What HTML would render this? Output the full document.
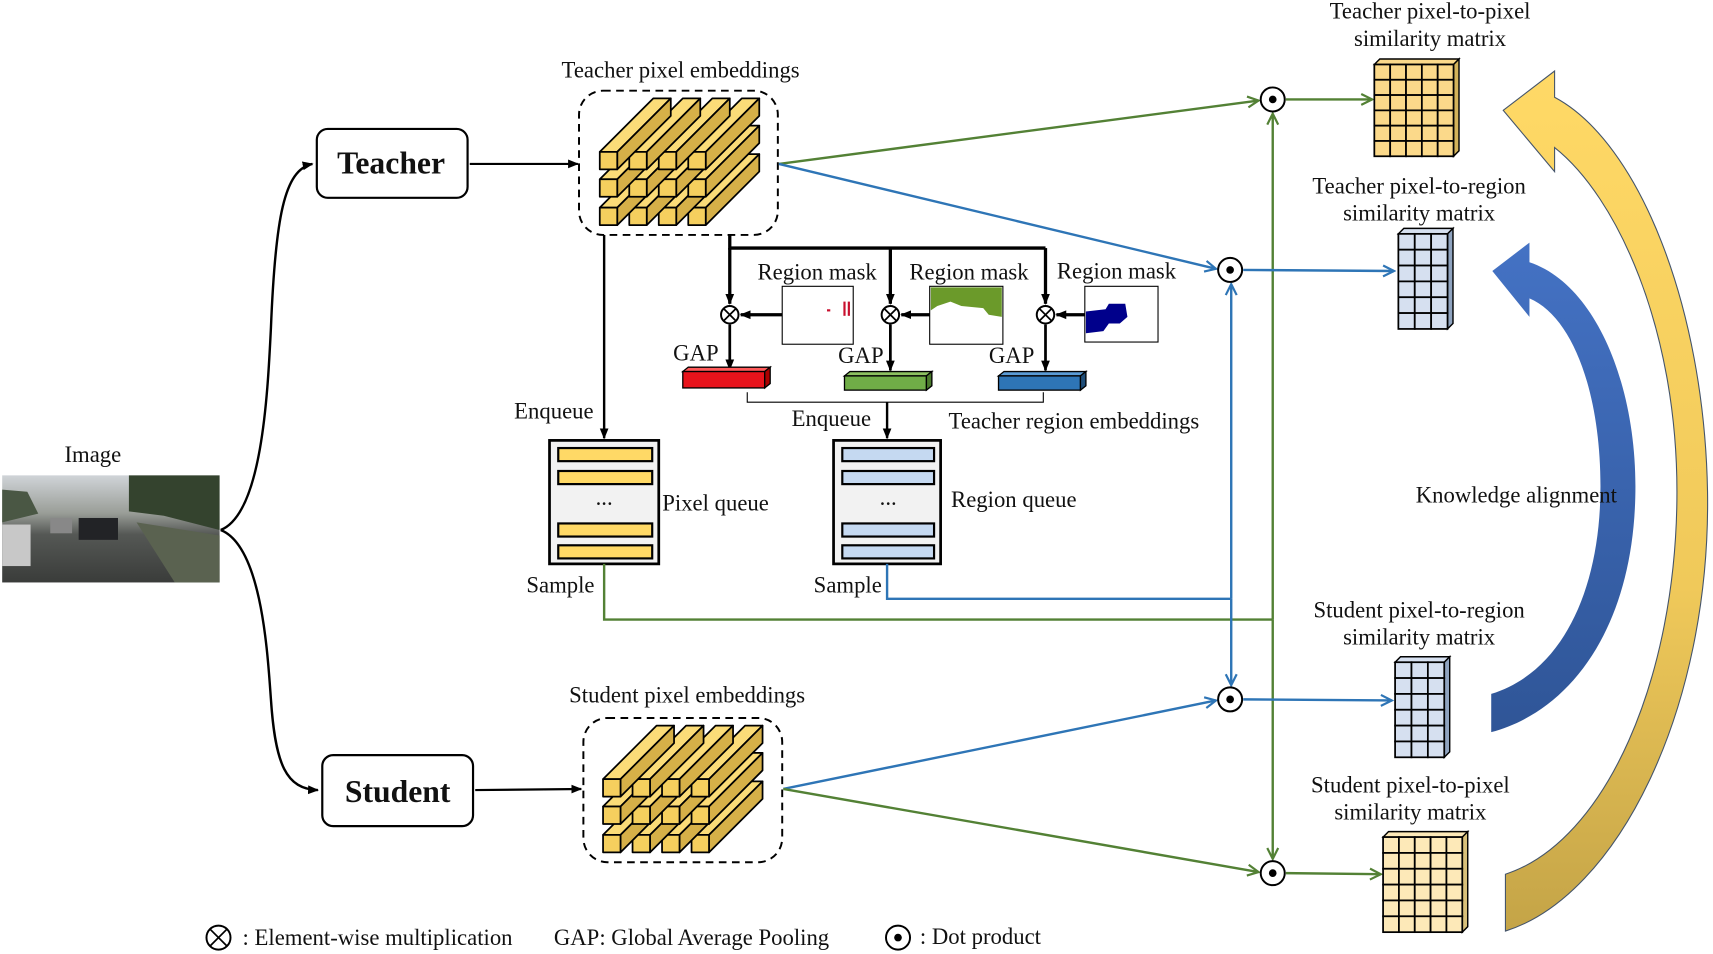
<!DOCTYPE html>
<html><head><meta charset="utf-8"><style>
html,body{margin:0;padding:0;background:#fff;}
svg{display:block;}
text{font-family:"Liberation Serif",serif;font-size:20.8px;fill:#111;}
</style></head><body>
<svg id="s" width="1713" height="954" viewBox="0 0 1568 873" preserveAspectRatio="none" xmlns="http://www.w3.org/2000/svg">
<defs>
<marker id="ak" markerWidth="10" markerHeight="10" refX="9" refY="5" orient="auto" markerUnits="userSpaceOnUse"><path d="M0,1 L10,5 L0,9 Z" fill="#000"/></marker>
<marker id="ag" markerWidth="14" markerHeight="14" refX="12" refY="7" orient="auto" markerUnits="userSpaceOnUse"><path d="M2,2 L12,7 L2,12" fill="none" stroke="#538135" stroke-width="2"/></marker>
<marker id="ab" markerWidth="14" markerHeight="14" refX="12" refY="7" orient="auto" markerUnits="userSpaceOnUse"><path d="M2,2 L12,7 L2,12" fill="none" stroke="#2e75b6" stroke-width="2"/></marker>
<linearGradient id="gy" x1="0" y1="0" x2="0" y2="1"><stop offset="0" stop-color="#ffd966"/><stop offset="0.6" stop-color="#f0c95a"/><stop offset="1" stop-color="#c4a447"/></linearGradient>
<linearGradient id="gb" x1="0" y1="0" x2="0" y2="1"><stop offset="0" stop-color="#4472c4"/><stop offset="1" stop-color="#2f5597"/></linearGradient>
<linearGradient id="sky" x1="0" y1="0" x2="0" y2="1"><stop offset="0" stop-color="#d0d4d8"/><stop offset="0.35" stop-color="#9a9e98"/><stop offset="0.55" stop-color="#555855"/><stop offset="1" stop-color="#3a3c3a"/></linearGradient>
</defs>

<rect x="2" y="435" width="199" height="98" fill="url(#sky)"/>
<path d="M118,435 L201,435 L201,485 L150,472 L118,468 Z" fill="#34432e"/>
<path d="M2,448 L25,450 L35,470 L2,478 Z" fill="#4a5744"/>
<path d="M125,478 L201,490 L201,533 L160,533 Z" fill="#5a6250"/>
<rect x="72" y="474" width="36" height="20" fill="#222326"/>
<rect x="2" y="480" width="26" height="38" fill="#c8c8c8"/>
<rect x="46" y="474" width="20" height="14" fill="#888"/>

<text x="85" y="423" text-anchor="middle">Image</text>

<path d="M202,485 C240,470 245,360 248,300 C252,200 260,155 286,150" fill="none" stroke="#000" stroke-width="2.2" marker-end="url(#ak)"/>
<path d="M202,485 C240,500 245,600 248,640 C252,700 262,722 291,723" fill="none" stroke="#000" stroke-width="2.2" marker-end="url(#ak)"/>

<rect x="290" y="118" width="138" height="63" rx="10" fill="#fff" stroke="#000" stroke-width="2"/>
<text x="358" y="159" text-anchor="middle" style="font-size:29px;font-weight:bold">Teacher</text>
<rect x="295" y="691" width="138" height="65" rx="10" fill="#fff" stroke="#000" stroke-width="2"/>
<text x="364" y="734" text-anchor="middle" style="font-size:29px;font-weight:bold">Student</text>

<line x1="430" y1="150" x2="529" y2="150" stroke="#000" stroke-width="2" marker-end="url(#ak)"/>
<line x1="435" y1="723" x2="532" y2="722" stroke="#000" stroke-width="2" marker-end="url(#ak)"/>

<text x="623" y="71" text-anchor="middle">Teacher pixel embeddings</text>
<text x="629" y="643" text-anchor="middle">Student pixel embeddings</text>
<rect x="530" y="83" width="182" height="132" rx="22" fill="none" stroke="#000" stroke-width="1.8" stroke-dasharray="7,5"/>
<rect x="534" y="657" width="182" height="132" rx="22" fill="none" stroke="#000" stroke-width="1.8" stroke-dasharray="7,5"/>
<g id="cubesT"></g>
<g id="cubesS"></g>

<line x1="713" y1="150" x2="1152" y2="92" stroke="#538135" stroke-width="2.2" marker-end="url(#ag)"/>
<line x1="713" y1="150" x2="1113" y2="246" stroke="#2e75b6" stroke-width="2.2" marker-end="url(#ab)"/>
<line x1="717" y1="722" x2="1113" y2="641" stroke="#2e75b6" stroke-width="2.2" marker-end="url(#ab)"/>
<line x1="717" y1="722" x2="1152" y2="798" stroke="#538135" stroke-width="2.2" marker-end="url(#ag)"/>

<line x1="553" y1="215" x2="553" y2="401" stroke="#000" stroke-width="2.2" marker-end="url(#ak)"/>
<polyline points="668,215 668,227 957,227" fill="none" stroke="#000" stroke-width="3"/>
<line x1="668" y1="227" x2="668" y2="278" stroke="#000" stroke-width="3" marker-end="url(#ak)"/>
<line x1="815" y1="227" x2="815" y2="278" stroke="#000" stroke-width="3" marker-end="url(#ak)"/>
<line x1="957" y1="227" x2="957" y2="278" stroke="#000" stroke-width="3" marker-end="url(#ak)"/>
<g id="otimes"></g>
<line x1="716" y1="288" x2="678" y2="288" stroke="#000" stroke-width="3" marker-end="url(#ak)"/>
<line x1="851" y1="288" x2="825" y2="288" stroke="#000" stroke-width="3" marker-end="url(#ak)"/>
<line x1="993" y1="288" x2="967" y2="288" stroke="#000" stroke-width="3" marker-end="url(#ak)"/>
<line x1="668" y1="297" x2="668" y2="338" stroke="#000" stroke-width="2.5" marker-end="url(#ak)"/>
<line x1="815" y1="297" x2="815" y2="339" stroke="#000" stroke-width="2.5" marker-end="url(#ak)"/>
<line x1="957" y1="297" x2="957" y2="339" stroke="#000" stroke-width="2.5" marker-end="url(#ak)"/>

<text x="748" y="256" text-anchor="middle">Region mask</text>
<text x="887" y="256" text-anchor="middle">Region mask</text>
<text x="1022" y="255" text-anchor="middle">Region mask</text>
<rect x="716" y="262" width="65" height="53" fill="#fff" stroke="#000" stroke-width="1"/>
<rect x="772" y="276" width="2" height="13" fill="#c8102e"/><rect x="776" y="276" width="2" height="13" fill="#c8102e"/><rect x="757" y="283" width="3" height="2" fill="#c8102e"/>
<rect x="851" y="262" width="67" height="53" fill="#fff" stroke="#000" stroke-width="1"/>
<path d="M852,263 L917,263 L917,290 L905,288 L900,282 L880,280 L870,276 L858,280 L852,284 Z" fill="#6b9a2a"/>
<rect x="993" y="262" width="67" height="51" fill="#fff" stroke="#000" stroke-width="1"/>
<path d="M994,285 L1012,283 L1015,278 L1030,278 L1032,290 L1025,296 L1015,296 L1010,303 L994,305 Z" fill="#00008b"/>
<text x="637" y="330" text-anchor="middle">GAP</text>
<text x="788" y="332" text-anchor="middle">GAP</text>
<text x="926" y="332" text-anchor="middle">GAP</text>

<g stroke="#000" stroke-width="1.2">
<polygon points="625,340 700,340 705,336 630,336" fill="#ff5a5a"/><rect x="625" y="340" width="75" height="15" fill="#e8131b"/><polygon points="700,340 705,336 705,351 700,355" fill="#a00"/>
<polygon points="773,344 848,344 853,340 778,340" fill="#8cc060"/><rect x="773" y="344" width="75" height="13" fill="#70ad47"/><polygon points="848,344 853,340 853,353 848,357" fill="#4a7a2c"/>
<polygon points="914,344 989,344 994,340 919,340" fill="#5b9bd5"/><rect x="914" y="344" width="75" height="13" fill="#2e75b6"/><polygon points="989,344 994,340 994,353 989,357" fill="#1f4e79"/>
</g>
<polyline points="684,359 684,368 955,368 955,359" fill="none" stroke="#000" stroke-width="1"/>
<line x1="812" y1="368" x2="812" y2="401" stroke="#000" stroke-width="2.2" marker-end="url(#ak)"/>
<text x="507" y="383" text-anchor="middle">Enqueue</text>
<text x="761" y="390" text-anchor="middle">Enqueue</text>
<text x="983" y="392" text-anchor="middle">Teacher region embeddings</text>

<rect x="503" y="403" width="100" height="113" fill="#f2f2f2" stroke="#000" stroke-width="2.5"/>
<g fill="#ffd966" stroke="#000" stroke-width="2">
<rect x="511" y="410" width="86" height="12"/><rect x="511" y="431" width="86" height="12"/><rect x="511" y="479" width="86" height="12"/><rect x="511" y="499" width="86" height="12"/></g>
<text x="553" y="462" text-anchor="middle">...</text>
<text x="655" y="467" text-anchor="middle">Pixel queue</text>
<rect x="763" y="403" width="98" height="113" fill="#f2f2f2" stroke="#000" stroke-width="2.5"/>
<g fill="#c5d9f1" stroke="#000" stroke-width="2">
<rect x="771" y="410" width="84" height="12"/><rect x="771" y="431" width="84" height="12"/><rect x="771" y="479" width="84" height="12"/><rect x="771" y="499" width="84" height="12"/></g>
<text x="813" y="462" text-anchor="middle">...</text>
<text x="928" y="464" text-anchor="middle">Region queue</text>
<text x="513" y="542" text-anchor="middle">Sample</text>
<text x="776" y="542" text-anchor="middle">Sample</text>

<polyline points="553,516 553,567 1165,567" fill="none" stroke="#538135" stroke-width="2.2"/>
<polyline points="812,516 812,548 1127,548" fill="none" stroke="#2e75b6" stroke-width="2.2"/>
<line x1="1165" y1="567" x2="1165" y2="104" stroke="#538135" stroke-width="2.2" marker-end="url(#ag)"/>
<line x1="1165" y1="567" x2="1165" y2="786" stroke="#538135" stroke-width="2.2" marker-end="url(#ag)"/>
<line x1="1127" y1="548" x2="1127" y2="260" stroke="#2e75b6" stroke-width="2.2" marker-end="url(#ab)"/>
<line x1="1127" y1="548" x2="1127" y2="627" stroke="#2e75b6" stroke-width="2.2" marker-end="url(#ab)"/>

<g fill="#fff" stroke="#000" stroke-width="1.8">
<circle cx="1165" cy="91" r="11"/><circle cx="1126" cy="247" r="11"/><circle cx="1126" cy="640" r="11"/><circle cx="1165" cy="799" r="11"/><circle cx="822" cy="858" r="11"/></g>
<g fill="#000"><circle cx="1165" cy="91" r="3.5"/><circle cx="1126" cy="247" r="3.5"/><circle cx="1126" cy="640" r="3.5"/><circle cx="1165" cy="799" r="3.5"/><circle cx="822" cy="858" r="3.5"/></g>

<line x1="1177" y1="91" x2="1256" y2="91" stroke="#538135" stroke-width="2.2" marker-end="url(#ag)"/>
<line x1="1138" y1="247" x2="1276" y2="248" stroke="#2e75b6" stroke-width="2.2" marker-end="url(#ab)"/>
<line x1="1138" y1="640" x2="1274" y2="641" stroke="#2e75b6" stroke-width="2.2" marker-end="url(#ab)"/>
<line x1="1177" y1="799" x2="1264" y2="800" stroke="#538135" stroke-width="2.2" marker-end="url(#ag)"/>

<g id="mats"></g>

<text x="1309" y="17" text-anchor="middle">Teacher pixel-to-pixel</text>
<text x="1309" y="42" text-anchor="middle">similarity matrix</text>
<text x="1299" y="177" text-anchor="middle">Teacher pixel-to-region</text>
<text x="1299" y="202" text-anchor="middle">similarity matrix</text>
<text x="1299" y="565" text-anchor="middle">Student pixel-to-region</text>
<text x="1299" y="590" text-anchor="middle">similarity matrix</text>
<text x="1291" y="725" text-anchor="middle">Student pixel-to-pixel</text>
<text x="1291" y="750" text-anchor="middle">similarity matrix</text>

<path d="M1376,101 L1423,65 L1423,89 C1500,130 1560,280 1563,450 C1566,650 1480,820 1378,852 L1378,800 C1470,770 1535,620 1535,450 C1535,300 1480,180 1423,135 L1423,157 Z" fill="url(#gy)" stroke="#44546a" stroke-width="1"/>
<path d="M1366,248 L1400,222 L1400,240 C1460,260 1497,350 1497,445 C1497,570 1440,650 1365,670 L1365,635 C1430,615 1465,540 1465,445 C1465,360 1440,290 1400,273 L1400,290 Z" fill="url(#gb)"/>
<text x="1388" y="460" text-anchor="middle">Knowledge alignment</text>

<text x="222" y="865">: Element-wise multiplication</text>
<text x="507" y="865">GAP: Global Average Pooling</text>
<text x="842" y="864">: Dot product</text>
</svg>
<script>
var NS="http://www.w3.org/2000/svg";
function el(p,t,a){var e=document.createElementNS(NS,t);for(var k in a)e.setAttribute(k,a[k]);p.appendChild(e);return e;}
function cubes(g,ox,oy){
 var cols=[549,576,603,630],rows=[190,164,139],s=16,dx=49,dy=-49;
 for(var r=0;r<3;r++)for(var c=3;c>=0;c--){
  var x=cols[c]+ox,y=rows[r]+oy,st={stroke:"#000","stroke-width":"1.6","stroke-linejoin":"round"};
  var a=Object.assign({points:x+","+y+" "+(x+dx)+","+(y+dy)+" "+(x+s+dx)+","+(y+dy)+" "+(x+s)+","+y,fill:"#fbdc78"},st);el(g,"polygon",a);
  a=Object.assign({points:(x+s)+","+y+" "+(x+s+dx)+","+(y+dy)+" "+(x+s+dx)+","+(y+s+dy)+" "+(x+s)+","+(y+s),fill:"#d6b048"},st);el(g,"polygon",a);
  a=Object.assign({x:x,y:y,width:s,height:s,fill:"#f5cf5e"},st);el(g,"rect",a);
 }}
cubes(document.getElementById("cubesT"),0,0);
cubes(document.getElementById("cubesS"),3,574);
var ot=document.getElementById("otimes");
[[668,288],[815,288],[957,288],[200,858]].forEach(function(p){var r=p[1]==858?11:8;
 el(ot,"circle",{cx:p[0],cy:p[1],r:r,fill:"#fff",stroke:"#000","stroke-width":"1.8"});
 var d=r*0.7;el(ot,"path",{d:"M"+(p[0]-d)+","+(p[1]-d)+"L"+(p[0]+d)+","+(p[1]+d)+"M"+(p[0]+d)+","+(p[1]-d)+"L"+(p[0]-d)+","+(p[1]+d),stroke:"#000","stroke-width":"1.6"});});
function mat(x,y,nc,nr,cw,ch,fill,side){
 var g=document.getElementById("mats"),w=nc*cw,h=nr*ch,d=5;
 el(g,"polygon",{points:x+","+y+" "+(x+d)+","+(y-d)+" "+(x+w+d)+","+(y-d)+" "+(x+w)+","+y,fill:fill,stroke:"#000","stroke-width":"1.3"});
 el(g,"polygon",{points:(x+w)+","+y+" "+(x+w+d)+","+(y-d)+" "+(x+w+d)+","+(y+h-d)+" "+(x+w)+","+(y+h),fill:side,stroke:"#000","stroke-width":"1.3"});
 for(var i=0;i<nc;i++)for(var j=0;j<nr;j++)el(g,"rect",{x:x+i*cw,y:y+j*ch,width:cw,height:ch,fill:fill,stroke:"#000","stroke-width":"1.6"});
}
mat(1258,59,5,6,14.5,14,"#fbd98a","#d4b35a");
mat(1280,214,3,6,15,14.5,"#d6e0f0","#8fa3bf");
mat(1277,606,3,6,15,14.5,"#d6e0f0","#8fa3bf");
mat(1266,766,5,6,14.5,14.5,"#fde9b8","#d8c07a");
</script>
</body></html>
